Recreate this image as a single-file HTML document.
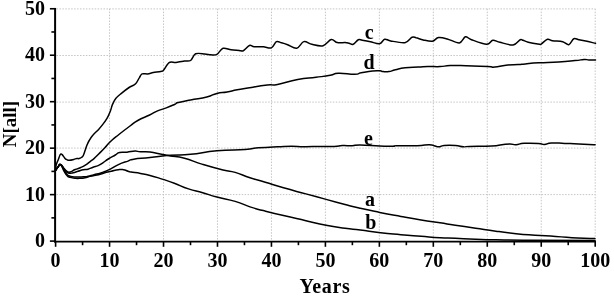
<!DOCTYPE html>
<html><head><meta charset="utf-8"><style>
html,body{margin:0;padding:0;background:#fff;}
svg{display:block;}
</style></head><body>
<svg width="614" height="296" viewBox="0 0 614 296">
<rect width="614" height="296" fill="#fff"/>
<g stroke="#c4c4c4" stroke-width="1" stroke-dasharray="1.47 1.47" fill="none" >
<line x1="109.56" y1="8.75" x2="109.56" y2="240.5"/>
<line x1="163.52" y1="8.75" x2="163.52" y2="240.5"/>
<line x1="217.48" y1="8.75" x2="217.48" y2="240.5"/>
<line x1="271.44" y1="8.75" x2="271.44" y2="240.5"/>
<line x1="325.40" y1="8.75" x2="325.40" y2="240.5"/>
<line x1="379.36" y1="8.75" x2="379.36" y2="240.5"/>
<line x1="433.32" y1="8.75" x2="433.32" y2="240.5"/>
<line x1="487.28" y1="8.75" x2="487.28" y2="240.5"/>
<line x1="541.24" y1="8.75" x2="541.24" y2="240.5"/>
<line x1="595.20" y1="8.75" x2="595.20" y2="240.5"/>
<line x1="56.5" y1="194.60" x2="595.20" y2="194.60"/>
<line x1="56.5" y1="148.10" x2="595.20" y2="148.10"/>
<line x1="56.5" y1="102.10" x2="595.20" y2="102.10"/>
<line x1="56.5" y1="55.50" x2="595.20" y2="55.50"/>
<line x1="56.5" y1="8.90" x2="595.20" y2="8.90"/>
</g>
<g fill="none" stroke="#000" stroke-width="1.5" stroke-linejoin="round" stroke-linecap="round" >
<path d="M55.5,170.5 C55.6,169.6 55.6,167.1 56.1,165.2 C56.6,163.3 57.9,160.7 58.5,159.0 C59.1,157.3 59.6,155.8 60.0,155.0 C60.4,154.2 60.7,154.1 61.1,154.1 C61.5,154.1 61.8,154.3 62.4,154.9 C63.0,155.5 63.8,157.1 64.6,157.9 C65.3,158.7 66.1,159.3 66.9,159.7 C67.7,160.1 68.1,160.4 69.2,160.3 C70.3,160.2 72.5,159.7 73.8,159.4 C75.1,159.1 75.9,158.5 76.8,158.4 C77.7,158.3 78.3,158.8 79.1,158.6 C79.9,158.4 80.7,158.0 81.4,157.5 C82.1,157.0 82.7,156.7 83.3,155.5 C83.9,154.3 84.5,152.3 85.1,150.6 C85.7,148.9 86.1,147.2 86.8,145.5 C87.5,143.8 88.2,142.2 89.2,140.5 C90.2,138.8 91.2,137.0 92.8,135.2 C94.4,133.3 96.9,131.2 98.6,129.4 C100.3,127.6 101.4,126.2 102.8,124.4 C104.2,122.6 105.7,120.6 107.0,118.4 C108.3,116.2 109.5,113.3 110.4,111.0 C111.3,108.7 111.5,106.8 112.4,104.6 C113.4,102.4 114.5,100.0 116.1,98.1 C117.6,96.2 119.5,94.9 121.7,93.1 C123.9,91.3 126.8,89.0 129.1,87.5 C131.4,86.0 133.9,85.5 135.6,83.8 C137.3,82.1 138.3,79.2 139.4,77.6 C140.5,75.9 140.7,74.5 142.1,73.9 C143.5,73.3 145.8,74.1 147.7,73.9 C149.6,73.7 151.1,73.0 153.3,72.6 C155.5,72.2 159.0,71.9 160.7,71.5 C162.4,71.1 162.1,71.7 163.5,70.2 C164.9,68.7 167.2,63.9 169.1,62.6 C171.0,61.3 173.4,62.6 175.0,62.5 C176.6,62.4 176.8,62.3 178.4,62.1 C180.0,61.9 182.5,61.4 184.5,61.1 C186.5,60.8 188.8,61.7 190.6,60.5 C192.4,59.3 193.2,54.9 195.6,53.8 C198.0,52.7 202.2,53.8 204.8,54.0 C207.4,54.2 208.9,54.7 210.9,54.8 C212.9,54.9 214.9,55.5 216.9,54.4 C218.9,53.3 220.6,49.1 223.0,48.3 C225.4,47.5 228.4,49.4 231.1,49.7 C233.8,50.1 237.2,50.2 239.2,50.4 C241.2,50.6 241.6,51.6 243.3,50.8 C245.0,50.0 247.6,46.2 249.4,45.5 C251.2,44.8 251.8,46.5 254.1,46.7 C256.4,46.9 260.4,46.5 263.3,46.7 C266.2,46.9 269.2,48.8 271.4,47.9 C273.6,47.0 274.7,42.5 276.4,41.6 C278.1,40.8 279.6,42.3 281.5,42.8 C283.4,43.3 285.1,43.8 287.6,44.7 C290.1,45.6 294.0,48.8 296.7,48.3 C299.4,47.8 301.3,42.3 303.8,41.6 C306.3,40.9 308.7,43.6 311.9,44.3 C315.1,45.0 319.9,46.5 323.1,45.7 C326.3,44.9 328.8,40.1 331.2,39.6 C333.6,39.1 335.0,42.1 337.3,42.6 C339.6,43.1 343.0,42.5 345.0,42.6 C347.0,42.7 347.7,43.0 349.1,43.3 C350.5,43.6 351.7,44.9 353.2,44.3 C354.7,43.7 356.8,40.4 358.3,39.7 C359.8,39.0 360.3,40.0 362.3,40.3 C364.3,40.6 367.5,41.1 370.4,41.7 C373.3,42.3 377.2,44.1 379.6,43.7 C382.0,43.3 382.8,39.8 384.6,39.3 C386.5,38.8 387.3,40.3 390.7,40.9 C394.1,41.5 401.3,43.3 404.9,42.7 C408.4,42.1 410.1,38.0 412.0,37.2 C413.9,36.4 414.2,37.3 416.1,37.8 C418.0,38.2 420.5,39.3 423.2,39.9 C425.9,40.5 429.8,41.7 432.3,41.3 C434.9,40.9 436.0,38.0 438.5,37.6 C441.0,37.2 443.7,38.0 447.2,38.9 C450.7,39.8 456.3,43.2 459.3,42.9 C462.3,42.5 463.4,37.3 465.4,36.8 C467.4,36.3 467.9,38.5 471.5,39.7 C475.1,41.0 483.1,44.2 486.7,44.3 C490.2,44.4 490.6,40.6 492.8,40.3 C495.0,40.0 496.5,41.5 499.9,42.3 C503.3,43.1 509.7,45.4 513.1,45.0 C516.5,44.6 518.5,40.5 520.2,39.7 C521.9,38.9 521.8,39.9 523.1,40.3 C524.4,40.7 525.5,41.6 528.2,42.3 C530.9,43.0 537.2,44.0 539.4,44.3 C541.6,44.6 540.0,44.7 541.4,43.9 C542.8,43.1 545.6,39.8 547.5,39.3 C549.4,38.8 550.0,40.3 552.5,40.7 C555.0,41.1 560.0,41.0 562.7,41.7 C565.4,42.4 566.9,45.2 568.8,44.7 C570.6,44.2 572.1,39.5 573.8,38.7 C575.5,37.9 576.7,39.3 578.9,39.7 C581.1,40.1 584.2,40.7 587.0,41.3 C589.8,41.9 594.1,43.0 595.5,43.3"/>
<path d="M55.5,170.5 C56.2,169.6 56.6,168.6 58.0,167.0 C59.4,165.4 59.0,164.2 60.6,164.6 C62.2,165.0 62.3,166.7 64.0,168.5 C65.7,170.3 65.4,170.4 67.0,171.3 C68.6,172.2 67.9,172.5 70.1,172.0 C72.3,171.5 72.5,170.6 75.2,169.5 C77.9,168.4 77.6,168.9 80.3,167.7 C83.0,166.5 82.6,166.8 85.3,165.1 C88.0,163.4 88.1,163.0 90.4,161.3 C92.7,159.6 91.8,160.5 94.0,158.6 C96.2,156.7 95.9,156.8 98.7,154.0 C101.5,151.2 101.5,151.3 104.6,148.0 C107.7,144.7 106.7,145.1 110.5,141.5 C114.3,137.9 113.7,138.6 118.9,134.5 C124.1,130.4 125.0,129.7 130.0,126.0 C135.0,122.3 132.6,123.4 137.8,120.5 C143.0,117.6 144.5,117.5 149.6,115.0 C154.7,112.5 152.5,113.0 157.0,111.1 C161.5,109.2 161.5,109.7 166.3,107.9 C171.1,106.1 171.8,105.6 175.0,104.2 C178.2,102.8 174.2,103.6 178.4,102.5 C182.6,101.4 183.0,101.4 190.6,99.9 C198.2,98.4 199.8,98.7 206.8,97.0 C213.8,95.3 211.5,94.7 216.9,93.4 C222.3,92.1 221.7,93.0 227.1,92.0 C232.5,91.0 231.3,90.8 237.2,89.7 C243.1,88.6 241.4,89.0 249.4,87.7 C257.4,86.4 259.8,85.9 267.3,85.0 C274.8,84.1 269.4,85.9 277.5,84.4 C285.6,82.9 287.4,81.3 297.7,79.4 C308.0,77.5 307.3,78.4 316.0,77.3 C324.7,76.2 324.3,76.4 330.2,75.3 C336.1,74.2 331.8,73.5 338.3,73.2 C344.8,72.9 348.6,74.3 354.7,74.2 C360.8,74.1 356.4,73.7 361.2,72.8 C366.0,71.9 367.6,71.4 372.6,70.9 C377.6,70.4 377.1,70.6 379.9,70.8 C382.7,71.0 380.6,71.4 383.0,71.6 C385.4,71.8 385.6,72.1 388.9,71.6 C392.2,71.1 391.1,70.8 395.4,69.8 C399.7,68.8 399.0,68.5 405.1,67.8 C411.2,67.1 412.1,67.4 418.2,67.1 C424.3,66.8 422.1,66.6 427.9,66.5 C433.7,66.4 434.1,66.8 440.0,66.6 C445.9,66.4 443.3,65.8 450.2,65.6 C457.1,65.4 456.0,65.5 466.0,65.8 C476.0,66.1 480.0,66.3 487.7,66.6 C495.4,66.9 489.9,67.5 494.8,67.1 C499.7,66.7 499.8,65.9 506.0,65.2 C512.2,64.5 513.1,64.9 518.2,64.6 C523.3,64.3 519.8,64.4 525.3,63.9 C530.8,63.4 530.1,63.3 539.0,62.8 C547.9,62.3 549.0,62.5 558.6,61.9 C568.2,61.3 568.1,61.2 574.9,60.6 C581.7,60.0 580.2,59.7 584.0,59.5 C587.8,59.3 585.9,59.8 589.0,60.0 C592.1,60.2 593.8,60.1 595.5,60.1"/>
<path d="M55.5,170.5 C56.2,169.6 56.6,168.6 58.0,167.0 C59.4,165.4 59.0,163.8 60.6,164.6 C62.2,165.4 62.3,167.4 64.0,170.0 C65.7,172.6 65.4,172.8 67.0,174.5 C68.6,176.2 68.0,175.5 70.1,176.2 C72.2,176.9 71.5,176.8 75.0,177.0 C78.5,177.2 79.8,177.0 83.3,176.8 C86.8,176.6 85.1,176.9 88.0,176.3 C90.9,175.7 90.8,175.5 94.1,174.7 C97.4,173.9 97.5,174.0 100.2,173.2 C102.9,172.4 101.5,172.8 104.2,171.7 C106.9,170.6 106.5,171.1 110.3,169.2 C114.1,167.3 113.7,166.8 118.4,164.6 C123.1,162.4 123.9,162.5 128.0,161.1 C132.1,159.7 127.9,160.1 133.8,159.2 C139.7,158.3 140.3,158.6 150.0,157.6 C159.7,156.6 159.5,156.2 170.3,155.3 C181.1,154.4 178.2,155.5 190.6,154.3 C203.0,153.1 202.4,152.1 216.9,150.8 C231.4,149.5 234.0,150.2 245.0,149.4 C256.0,148.6 249.6,148.5 258.3,147.8 C267.0,147.1 268.8,147.1 277.7,146.7 C286.6,146.3 284.7,146.2 291.7,146.2 C298.7,146.2 296.3,146.6 303.8,146.7 C311.3,146.8 311.9,146.5 320.0,146.4 C328.1,146.3 328.2,146.6 334.2,146.4 C340.2,146.2 337.6,145.8 342.4,145.6 C347.2,145.4 347.4,145.9 352.2,145.7 C357.0,145.5 353.0,144.8 360.3,144.9 C367.6,145.0 371.0,145.5 379.6,145.9 C388.2,146.3 388.1,146.4 392.7,146.3 C397.3,146.2 390.3,145.9 396.8,145.7 C403.3,145.5 408.5,146.0 417.1,145.7 C425.7,145.4 424.4,144.6 429.2,144.7 C434.0,144.8 432.4,145.4 435.0,146.0 C437.6,146.6 436.7,147.0 439.1,146.8 C441.5,146.6 439.8,145.8 444.1,145.4 C448.4,145.0 450.2,145.0 455.3,145.4 C460.4,145.8 459.6,146.5 463.4,146.8 C467.2,147.1 461.9,146.6 469.5,146.4 C477.1,146.2 483.2,146.5 491.8,146.0 C500.4,145.5 497.0,145.3 501.9,144.7 C506.8,144.1 506.2,143.9 510.0,143.9 C513.8,143.9 512.3,144.9 516.1,144.7 C519.9,144.5 518.3,143.6 524.2,143.3 C530.1,143.0 532.9,143.1 538.3,143.4 C543.7,143.7 540.9,144.5 544.4,144.4 C547.9,144.3 546.1,143.3 551.5,143.0 C556.9,142.7 557.4,143.1 564.7,143.4 C572.0,143.7 570.8,143.6 578.9,144.0 C587.0,144.4 590.8,144.6 595.1,144.8"/>
<path d="M55.5,170.5 C56.2,169.6 56.6,168.6 58.0,167.0 C59.4,165.4 59.0,164.1 60.6,164.6 C62.2,165.1 62.3,166.9 64.0,169.0 C65.7,171.1 65.4,171.2 67.0,172.3 C68.6,173.4 68.4,173.1 70.1,173.2 C71.8,173.3 71.0,173.2 73.2,172.7 C75.4,172.2 75.5,172.0 78.2,171.2 C80.9,170.4 80.7,170.2 83.3,169.7 C85.9,169.2 85.4,169.9 88.0,169.2 C90.6,168.5 90.4,168.2 93.1,167.2 C95.8,166.2 95.4,166.8 98.1,165.6 C100.8,164.4 100.5,164.4 103.2,162.6 C105.9,160.8 105.1,161.0 108.3,159.0 C111.5,157.0 112.3,156.7 115.3,155.0 C118.3,153.3 116.5,153.2 119.6,152.5 C122.7,151.8 122.9,152.6 127.0,152.2 C131.1,151.8 131.5,151.2 135.1,151.1 C138.7,151.0 136.5,151.6 140.5,151.8 C144.5,152.0 144.4,151.3 150.0,152.0 C155.6,152.7 156.0,153.3 161.4,154.3 C166.8,155.3 164.1,154.8 170.3,155.9 C176.5,157.0 175.9,156.0 184.5,158.3 C193.1,160.6 192.4,161.3 202.7,164.4 C213.0,167.5 214.3,167.9 223.0,170.0 C231.7,172.1 228.0,170.3 235.2,172.4 C242.4,174.5 242.0,175.2 250.0,177.8 C258.0,180.4 256.4,179.5 265.3,182.2 C274.2,184.9 272.7,184.7 283.5,187.8 C294.3,190.9 294.5,190.8 305.9,193.9 C317.3,197.0 315.7,196.6 326.1,199.4 C336.5,202.2 335.9,202.1 345.0,204.5 C354.1,206.9 351.1,206.2 360.3,208.3 C369.5,210.4 368.8,210.2 379.6,212.4 C390.4,214.6 389.8,214.4 400.9,216.4 C412.0,218.4 410.7,218.2 421.1,219.9 C431.5,221.6 430.9,221.4 440.0,222.8 C449.1,224.2 445.8,223.8 455.3,225.2 C464.8,226.6 464.8,226.6 475.6,228.2 C486.4,229.8 485.1,229.7 495.9,231.2 C506.7,232.7 505.7,232.6 516.1,233.7 C526.5,234.8 524.4,234.5 535.0,235.2 C545.6,235.9 544.4,235.7 555.7,236.4 C567.0,237.1 566.8,237.4 577.3,238.0 C587.8,238.6 590.2,238.4 594.9,238.6"/>
<path d="M55.5,170.5 C56.2,169.6 56.6,168.6 58.0,167.0 C59.4,165.4 59.0,163.5 60.6,164.6 C62.2,165.7 62.3,168.1 64.0,171.0 C65.7,173.9 65.4,173.8 67.0,175.5 C68.6,177.2 68.0,176.7 70.1,177.4 C72.2,178.1 72.3,178.1 75.0,178.3 C77.7,178.5 77.3,178.5 80.3,178.3 C83.3,178.1 84.2,177.8 86.3,177.4 C88.4,177.0 85.9,177.4 88.0,176.9 C90.1,176.4 90.8,176.1 94.1,175.4 C97.4,174.7 97.0,175.1 100.2,174.3 C103.4,173.5 103.2,173.1 106.2,172.3 C109.2,171.5 108.0,171.9 111.3,171.2 C114.6,170.5 115.2,170.1 118.4,169.7 C121.6,169.3 120.8,169.3 123.4,169.7 C126.0,170.1 125.9,170.6 128.0,171.2 C130.1,171.8 127.8,171.5 131.1,172.1 C134.4,172.7 135.5,172.5 140.5,173.4 C145.5,174.3 144.2,173.9 150.0,175.4 C155.8,176.9 155.7,177.0 162.2,179.1 C168.7,181.2 167.3,180.6 174.3,183.2 C181.3,185.8 180.9,186.4 188.5,188.9 C196.1,191.4 195.1,190.5 202.7,192.7 C210.3,194.9 208.2,194.7 216.9,197.0 C225.6,199.3 226.4,198.8 235.2,201.4 C244.0,204.0 242.5,204.4 250.0,206.9 C257.5,209.4 254.4,208.3 263.3,210.6 C272.2,212.9 272.1,212.9 283.5,215.6 C294.9,218.3 294.5,218.1 305.9,220.7 C317.3,223.3 315.7,223.2 326.1,225.2 C336.5,227.2 335.9,226.9 345.0,228.2 C354.1,229.5 350.8,228.8 360.3,230.0 C369.8,231.2 369.8,231.4 380.6,232.7 C391.4,234.0 390.1,233.7 400.9,234.7 C411.7,235.7 410.7,235.5 421.1,236.3 C431.5,237.1 430.9,237.2 440.0,237.7 C449.1,238.2 445.8,237.9 455.3,238.3 C464.8,238.7 464.8,238.8 475.6,239.2 C486.4,239.6 481.4,239.5 495.9,239.8 C510.4,240.1 503.6,240.1 530.0,240.3 C556.4,240.5 577.7,240.5 595.0,240.6"/>
</g>
<g stroke="#000" stroke-width="1.6" fill="none">
<line x1="55.60" y1="241.7" x2="55.60" y2="246.8"/>
<line x1="109.56" y1="241.7" x2="109.56" y2="246.8"/>
<line x1="163.52" y1="241.7" x2="163.52" y2="246.8"/>
<line x1="217.48" y1="241.7" x2="217.48" y2="246.8"/>
<line x1="271.44" y1="241.7" x2="271.44" y2="246.8"/>
<line x1="325.40" y1="241.7" x2="325.40" y2="246.8"/>
<line x1="379.36" y1="241.7" x2="379.36" y2="246.8"/>
<line x1="433.32" y1="241.7" x2="433.32" y2="246.8"/>
<line x1="487.28" y1="241.7" x2="487.28" y2="246.8"/>
<line x1="541.24" y1="241.7" x2="541.24" y2="246.8"/>
<line x1="595.20" y1="241.7" x2="595.20" y2="246.8"/>
<line x1="82.58" y1="241.7" x2="82.58" y2="245.2"/>
<line x1="136.54" y1="241.7" x2="136.54" y2="245.2"/>
<line x1="190.50" y1="241.7" x2="190.50" y2="245.2"/>
<line x1="244.46" y1="241.7" x2="244.46" y2="245.2"/>
<line x1="298.42" y1="241.7" x2="298.42" y2="245.2"/>
<line x1="352.38" y1="241.7" x2="352.38" y2="245.2"/>
<line x1="406.34" y1="241.7" x2="406.34" y2="245.2"/>
<line x1="460.30" y1="241.7" x2="460.30" y2="245.2"/>
<line x1="514.26" y1="241.7" x2="514.26" y2="245.2"/>
<line x1="568.22" y1="241.7" x2="568.22" y2="245.2"/>
<line x1="49.9" y1="241.10" x2="55.1" y2="241.10"/>
<line x1="49.9" y1="194.63" x2="55.1" y2="194.63"/>
<line x1="49.9" y1="148.16" x2="55.1" y2="148.16"/>
<line x1="49.9" y1="101.69" x2="55.1" y2="101.69"/>
<line x1="49.9" y1="55.22" x2="55.1" y2="55.22"/>
<line x1="49.9" y1="8.75" x2="55.1" y2="8.75"/>
<line x1="51.4" y1="217.87" x2="55.1" y2="217.87"/>
<line x1="51.4" y1="171.39" x2="55.1" y2="171.39"/>
<line x1="51.4" y1="124.92" x2="55.1" y2="124.92"/>
<line x1="51.4" y1="78.45" x2="55.1" y2="78.45"/>
<line x1="51.4" y1="31.98" x2="55.1" y2="31.98"/>
</g>
<g stroke="#000" fill="none">
<line x1="55.1" y1="7.95" x2="55.1" y2="242.5" stroke-width="2"/>
<line x1="54.1" y1="241.7" x2="596.00" y2="241.7" stroke-width="1.8"/>
</g>
<g font-family="'Liberation Serif', serif" font-weight="bold" font-size="20" fill="#000">
<text x="45" y="247.10" text-anchor="end">0</text>
<text x="45" y="200.63" text-anchor="end">10</text>
<text x="45" y="154.16" text-anchor="end">20</text>
<text x="45" y="107.69" text-anchor="end">30</text>
<text x="45" y="61.22" text-anchor="end">40</text>
<text x="45" y="14.75" text-anchor="end">50</text>
<text x="55.60" y="266.7" text-anchor="middle">0</text>
<text x="109.56" y="266.7" text-anchor="middle">10</text>
<text x="163.52" y="266.7" text-anchor="middle">20</text>
<text x="217.48" y="266.7" text-anchor="middle">30</text>
<text x="271.44" y="266.7" text-anchor="middle">40</text>
<text x="325.40" y="266.7" text-anchor="middle">50</text>
<text x="379.36" y="266.7" text-anchor="middle">60</text>
<text x="433.32" y="266.7" text-anchor="middle">70</text>
<text x="487.28" y="266.7" text-anchor="middle">80</text>
<text x="541.24" y="266.7" text-anchor="middle">90</text>
<text x="595.20" y="266.7" text-anchor="middle">100</text>
<text x="324.9" y="292.7" text-anchor="middle" letter-spacing="0.6">Years</text>
<text transform="translate(15.6,124.1) rotate(-90)" text-anchor="middle" font-size="19">N[all]</text>
<text x="369.2" y="39" text-anchor="middle">c</text>
<text x="369" y="68.6" text-anchor="middle">d</text>
<text x="368.4" y="144.7" text-anchor="middle">e</text>
<text x="370" y="206.3" text-anchor="middle">a</text>
<text x="370.7" y="229.2" text-anchor="middle">b</text>
</g>
</svg>
</body></html>
